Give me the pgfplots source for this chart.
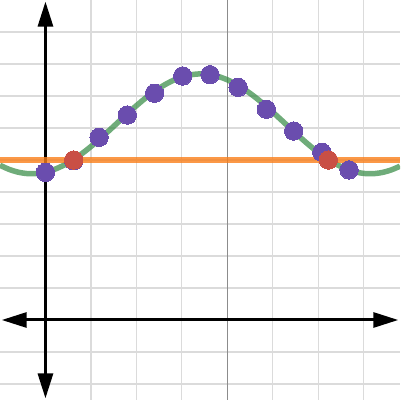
\documentclass[border=0pt]{standalone}
\usepackage{pgfplots}
\pgfplotsset{compat=1.18}
\usetikzlibrary{arrows.meta}
\definecolor{dgreen}{HTML}{388C46}
\definecolor{dpurple}{HTML}{6A4DAE}
\definecolor{dorange}{HTML}{FA7E19}
\definecolor{dred}{HTML}{C94F45}
\begin{document}
\begin{tikzpicture}
\begin{axis}[
  scale only axis, width=400pt, height=400pt,
  xmin=-50, xmax=390, ymin=-5, ymax=20,
  axis line style={draw=none},
  xtick={50,100,150,250,300,350},
  ytick={-4,-2,2,4,6,8,10,12,14,16,18},
  xticklabels={}, yticklabels={},
  major tick length=0pt,
  grid=major,
  major grid style={line width=1.3pt, color=black!14},
  extra x ticks={200}, extra x tick labels={},
  extra x tick style={grid=major, major grid style={line width=1.3pt, color=black!45}},
]
\draw[line width=3pt, {Triangle[length=25pt,width=15pt]}-{Triangle[length=25pt,width=15pt]}] (axis cs:-48.1,0) -- (axis cs:388.1,0);
\draw[line width=3pt, {Triangle[length=25pt,width=15pt]}-{Triangle[length=25pt,width=15pt]}] (axis cs:0,-4.9) -- (axis cs:0,19.9);

% monthly data points (day of year, daylight hours)
\addplot[only marks, mark=*, mark size=9.2pt, color=dpurple, mark options={fill=dpurple, draw=dpurple, line width=0pt}]
coordinates {(0,9.23) (31,9.95) (59,11.42) (90,12.81) (120,14.17) (151,15.25) (181,15.33) (212,14.54) (243,13.17) (273,11.81) (304,10.48) (334,9.38)};

% fitted curve
\addplot[smooth, line width=5.5pt, color=dgreen, opacity=0.72] coordinates {
(-50,9.670) (-40,9.414) (-30,9.239) (-20,9.151) (-10,9.151) (0,9.239) (10,9.414) (20,9.670)
(30,10.000) (40,10.393) (50,10.840) (60,11.326) (70,11.839) (80,12.365) (90,12.888) (100,13.393)
(110,13.866) (120,14.292) (130,14.661) (140,14.962) (150,15.186) (160,15.326) (170,15.380)
(180,15.344) (190,15.221) (200,15.013) (210,14.727) (220,14.371) (230,13.955) (240,13.491)
(250,12.991) (260,12.471) (270,11.945) (280,11.427) (290,10.933) (300,10.477) (310,10.073)
(320,9.730) (330,9.460) (340,9.268) (350,9.162) (360,9.144) (370,9.215) (380,9.372) (390,9.612)};

% intersection points
\addplot[only marks, mark=*, mark size=9.2pt, color=dred, mark options={fill=dred, draw=dred, line width=0pt}]
coordinates {(31.1,10.0) (311.2,10.0)};

% threshold line
\addplot[line width=5.5pt, color=dorange, opacity=0.8] coordinates {(-50,10) (390,10)};
\end{axis}
\pgfresetboundingbox
\useasboundingbox (current axis.south west) rectangle (current axis.north east);
\end{tikzpicture}
\end{document}
